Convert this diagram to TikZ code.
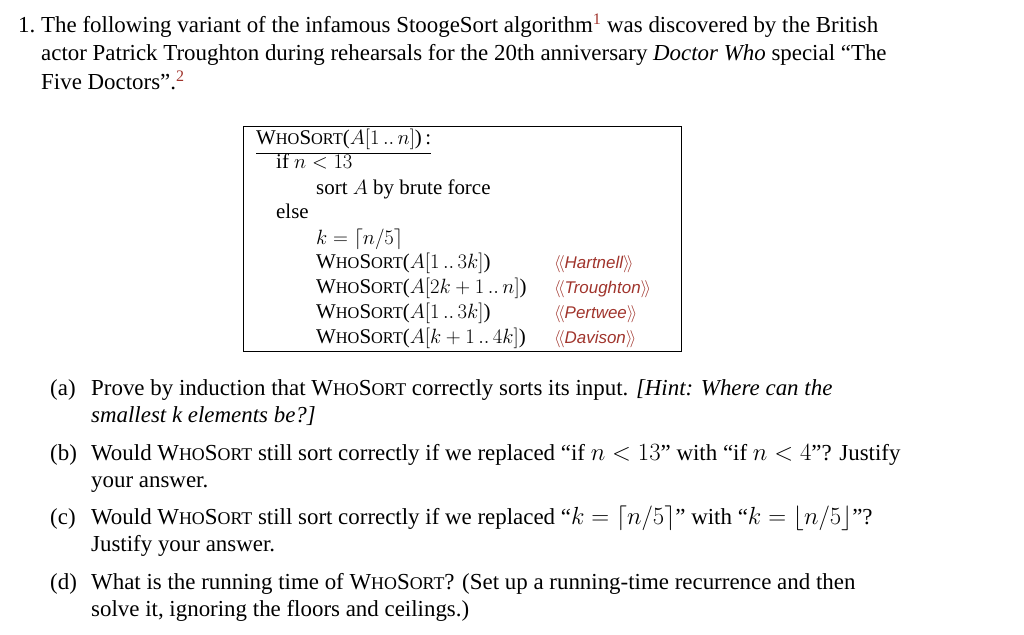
\documentclass[tikz,border=0pt]{standalone}
\usepackage{fontspec}
\setmainfont{Liberation Serif}
\setsansfont{Liberation Sans}
\usepackage{amsmath}
\definecolor{cmt}{HTML}{A0342C}
\begin{document}
\begin{tikzpicture}[x=1bp,y=-1bp,
  txt/.style={anchor=base west,inner sep=0pt,font=\fontsize{23}{26}\selectfont},
  code/.style={anchor=base west,inner sep=0pt,font=\fontsize{21}{24}\selectfont},
  comm/.style={anchor=base west,inner sep=0pt,font=\fontsize{17}{22}\selectfont\sffamily\itshape,text=cmt}]
\useasboundingbox (0,0) rectangle (1024,635);
\newcommand{\ws}{W\scalebox{0.78}{HO}S\scalebox{0.78}{ORT}}
\node[txt] (l1n) at (18,33) {1.};
\node[txt] (l1) at (41,33) {The following variant of the infamous StoogeSort algorithm\textsuperscript{\textcolor{cmt}{1}} was discovered by the British};
\node[txt] (l2) at (41,61) {actor Patrick Troughton during rehearsals for the 20th anniversary \textit{Doctor Who} special “The};
\node[txt] (l3) at (41,90) {Five Doctors”.\textsuperscript{\textcolor{cmt}{2}}};
\node[draw,line width=0.8bp,minimum width=438bp,minimum height=225bp,anchor=north west,inner sep=0pt] (box) at (243,126) {};
\node[code] (h) at (256,145) {\underline{\ws($A[1\,..\,n]$)\,:}};
\node[code] (c1) at (276,169) {if $n<13$};
\node[code] (c2) at (316,195) {sort $A$ by brute force};
\node[code] (c3) at (276,219) {else};
\node[code] (c4) at (316,245) {$k=\lceil n/5\rceil$};
\node[code] (c5) at (316,269) {\ws($A[1\,..\,3k]$)};
\node[code] (c6) at (316,294) {\ws($A[2k+1\,..\,n]$)};
\node[code] (c7) at (316,318) {\ws($A[1\,..\,3k]$)};
\node[code] (c8) at (316,343) {\ws($A[k+1\,..\,4k]$)};
\node[comm] (m5) at (554,269) {$\langle\!\langle$Hartnell$\rangle\!\rangle$};
\node[comm] (m6) at (554,294) {$\langle\!\langle$Troughton$\rangle\!\rangle$};
\node[comm] (m7) at (554,318) {$\langle\!\langle$Pertwee$\rangle\!\rangle$};
\node[comm] (m8) at (554,343) {$\langle\!\langle$Davison$\rangle\!\rangle$};
\node[txt] (al) at (50,395) {(a)};
\node[txt] (a1) at (91,395) {Prove by induction that \ws{} correctly sorts its input. \textit{[Hint: Where can the}};
\node[txt] (a2) at (91,422) {\textit{smallest k elements be?]}};
\node[txt] (bl) at (50,460) {(b)};
\node[txt] (b1) at (91,460) {Would \ws{} still sort correctly if we replaced “if $n<13$” with “if $n<4$”? Justify};
\node[txt] (b2) at (91,487) {your answer.};
\node[txt] (cl) at (50,524) {(c)};
\node[txt] (c1x) at (91,524) {Would \ws{} still sort correctly if we replaced “$k=\lceil n/5\rceil$” with “$k=\lfloor n/5\rfloor$”?};
\node[txt] (c2x) at (91,551) {Justify your answer.};
\node[txt] (dl) at (50,589) {(d)};
\node[txt] (d1) at (91,589) {What is the running time of \ws? (Set up a running-time recurrence and then};
\node[txt] (d2) at (91,616) {solve it, ignoring the floors and ceilings.)};
\end{tikzpicture}
\end{document}
